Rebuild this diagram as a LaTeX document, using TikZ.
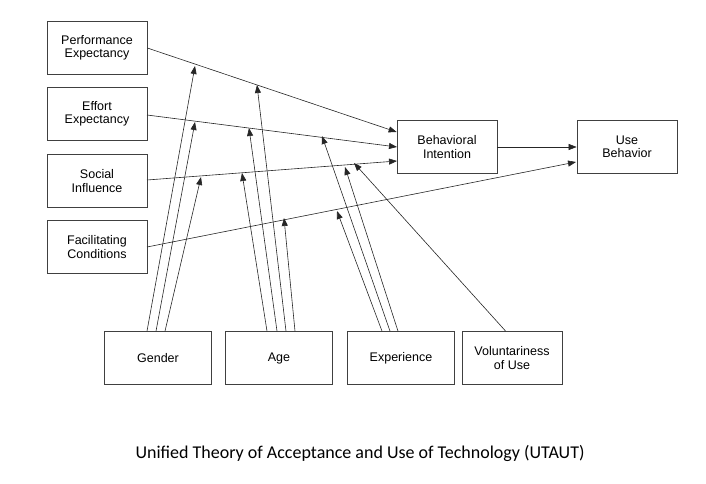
\documentclass[tikz,border=0pt]{standalone}
\usepackage{fontspec}
\usetikzlibrary{arrows.meta}
\setmainfont{Liberation Sans}
\newfontfamily\capfont{Carlito}
\begin{document}
\begin{tikzpicture}[x=1pt,y=-1pt,
 box/.style={draw=black!75,line width=0.7pt,minimum width=100pt,minimum height=53pt,align=center,font=\fontsize{12.5}{13.5}\selectfont,inner sep=1pt},
 bbox/.style={box,minimum width=107pt},
 arr/.style={-{Triangle[length=8pt,width=6pt]},line width=0.6pt,black!85}]
\useasboundingbox (0,0) rectangle (706,484);
\node[box] (pe) at (97,48) {Performance\\Expectancy};
\node[box] (ee) at (97,114) {Effort\\Expectancy};
\node[box] (si) at (97,181) {Social\\Influence};
\node[box] (fc) at (97,247) {Facilitating\\Conditions};
\node[box] (bi) at (447,147) {Behavioral\\Intention};
\node[box] (ub) at (627,147) {Use\\Behavior};
\node[bbox] (g) at (158,358) {Gender};
\node[bbox] (a) at (279,358) {Age};
\node[bbox] (e) at (401,358) {Experience};
\node[box] (v) at (512,358) {Voluntariness\\of Use};
\draw[arr] (pe.east) -- (bi.north west |- 0,132);
\draw[arr] (147,115) -- (397,147);
\draw[arr] (147,180) -- (397,161);
\draw[arr] (147,247) -- (576,162);
\draw[arr] (bi.east) -- (ub.west);
\foreach \b/\tx/\ty in {147/195/66,156/195/122,165/201/177}
 \draw[arr] (g.north -| \b,0) -- (\tx,\ty);
\foreach \b/\tx/\ty in {267/242/173,277/249/128,286/257/85,295/284/218}
 \draw[arr] (a.north -| \b,0) -- (\tx,\ty);
\foreach \b/\tx/\ty in {382/337/211,390/322/136,398/345/167}
 \draw[arr] (e.north -| \b,0) -- (\tx,\ty);
\draw[arr] (v.north west) ++(44,0) -- (354,163);
\node[font=\capfont\fontsize{18}{20}\selectfont] (cap) at (360,453) {Unified Theory of Acceptance and Use of Technology (UTAUT)};
\end{tikzpicture}
\end{document}
